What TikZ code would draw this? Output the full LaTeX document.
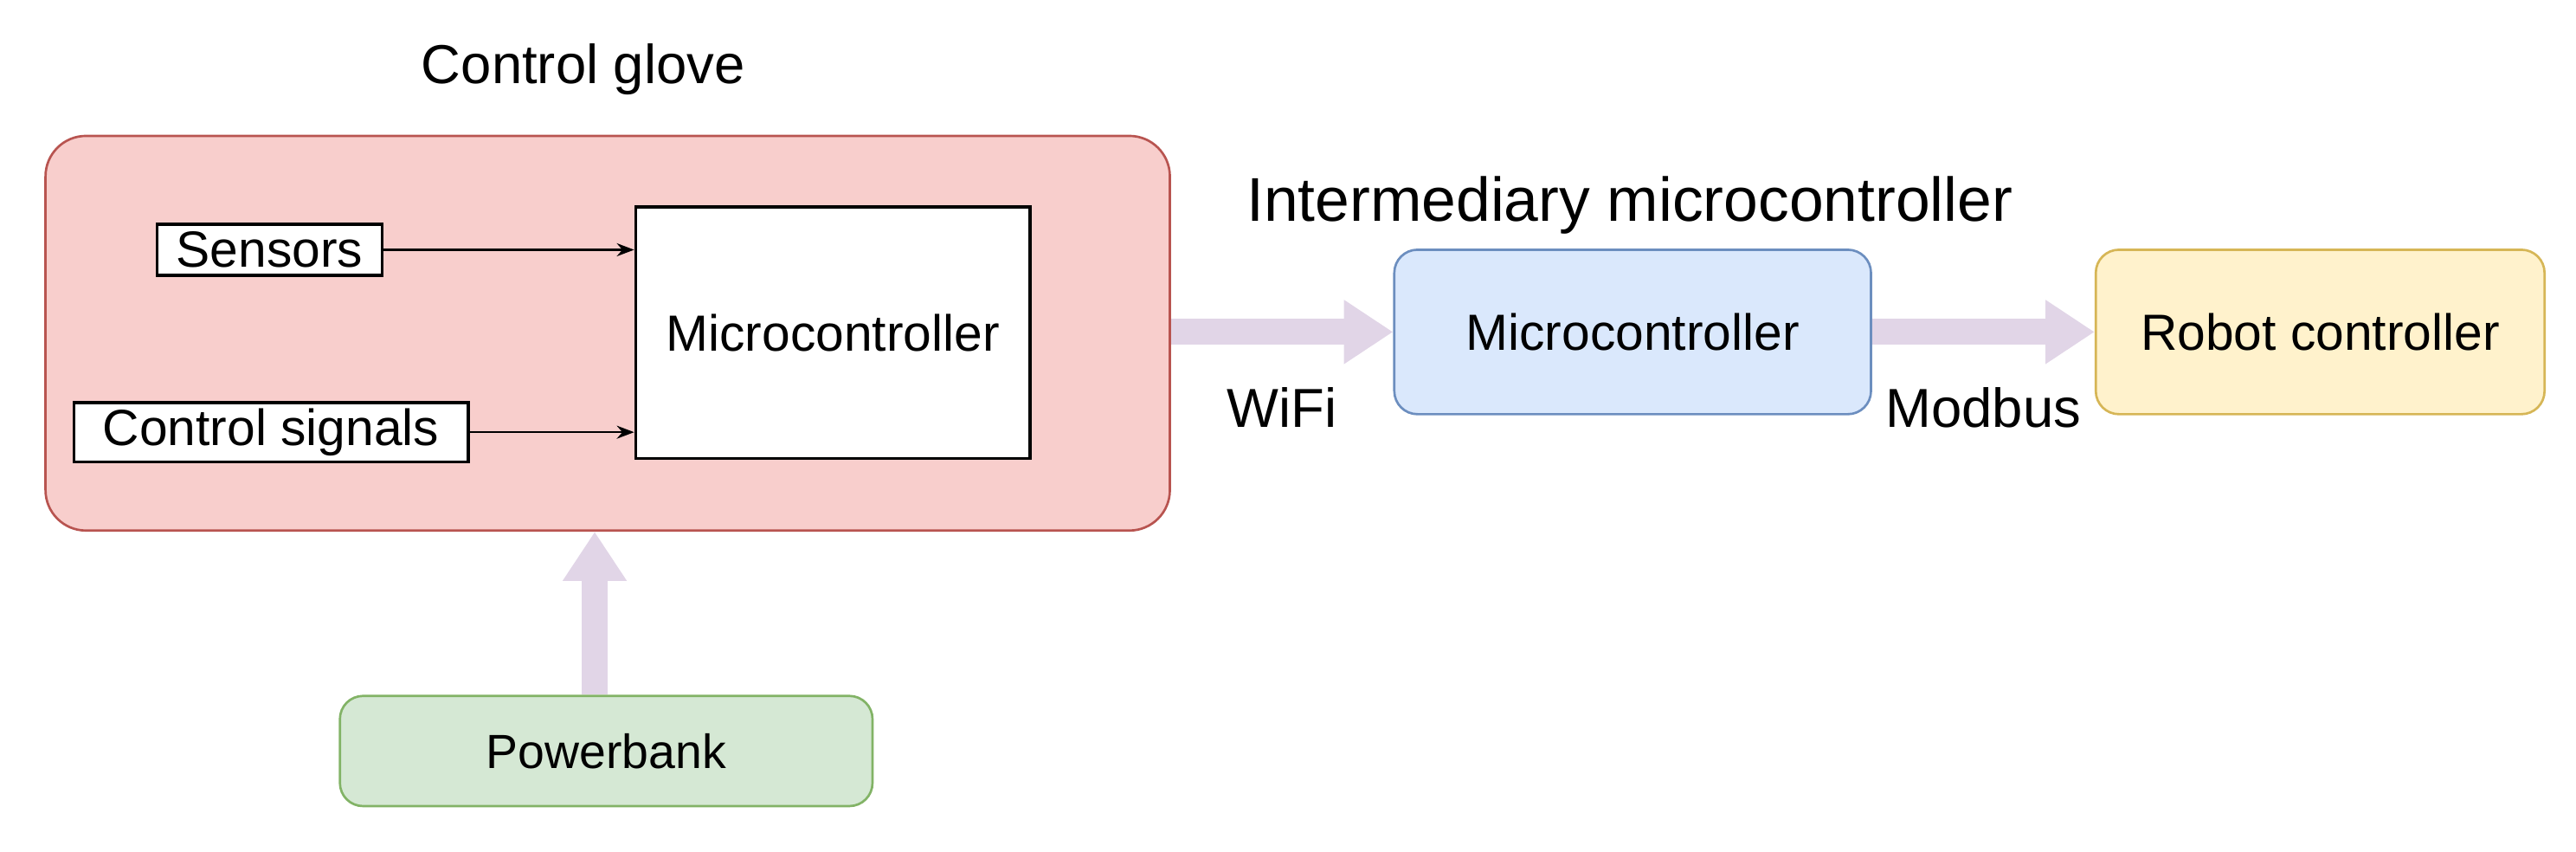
\documentclass[tikz,border=0pt]{standalone}
\usepackage{fontspec}
\setmainfont{Liberation Sans}
\usetikzlibrary{arrows.meta, positioning}
\definecolor{redfill}{HTML}{F8CECC}
\definecolor{redline}{HTML}{B85450}
\definecolor{bluefill}{HTML}{DAE8FC}
\definecolor{blueline}{HTML}{6C8EBF}
\definecolor{yellowfill}{HTML}{FFF2CC}
\definecolor{yellowline}{HTML}{D6B656}
\definecolor{greenfill}{HTML}{D5E8D4}
\definecolor{greenline}{HTML}{82B366}
\definecolor{purplefill}{HTML}{E1D5E7}
\tikzset{%
    block/.style={%
        draw, rounded corners=4pt, line width=0.4pt,
        font=\fontsize{8.8}{10}\selectfont
    },
    plain/.style={%
        draw, line width=0.5pt, fill=white, inner sep=1pt,
        font=\fontsize{8.8}{10}\selectfont
    },
    fatarrow/.style={%
        draw=purplefill, line width=4.5pt,
        -{Triangle[length=8.5pt, width=10.5pt]}
    },
    thinarrow/.style={%
        ->, >={Stealth[length=3pt]}, line width=0.4pt
    },
    title/.style={font=\fontsize{9.5}{11}\selectfont}
}
\begin{document}
\begin{tikzpicture}[x=0.01cm, y=-0.01cm]
    \useasboundingbox (0, 0) rectangle (1568, 518);

    % Control glove
    \node[block, rounded corners=7pt, fill=redfill, draw=redline,
        minimum width=6.84cm, minimum height=2.4cm, anchor=north west]
        (glove) at (27, 82) {};
    \node[title] (glove-title) at (355, 42) {Control glove};

    \node[draw, line width=0.5pt, fill=white, minimum width=2.4cm,
        minimum height=1.53cm, anchor=north west,
        font=\fontsize{8.8}{10}\selectfont]
        (mcu) at (386, 125) {Microcontroller};
    \node[plain, minimum width=1.37cm, minimum height=0.31cm]
        (sensors) at (164, 152) {Sensors};
    \node[plain, minimum width=2.4cm, minimum height=0.33cm]
        (signals) at (165, 263) {Control signals};

    \draw[thinarrow] (sensors.east) -- (sensors.east -| mcu.west);
    \draw[thinarrow] (signals.east) -- (signals.east -| mcu.west);

    % Intermediary
    \node[block, fill=bluefill, draw=blueline, minimum width=2.9cm,
        minimum height=1cm, anchor=west]
        (inter) at (848, 202) {Microcontroller};
    \node[title, font=\fontsize{10.7}{12}\selectfont]
        (inter-title) at (992, 125) {Intermediary microcontroller};

    % Robot
    \node[block, fill=yellowfill, draw=yellowline, minimum width=2.73cm,
        minimum height=1cm, anchor=west]
        (robot) at (1275, 202) {Robot controller};

    % Powerbank
    \node[block, fill=greenfill, draw=greenline,
        minimum width=3.24cm, minimum height=0.67cm,
        font=\fontsize{8.3}{10}\selectfont]
        (power) at (369, 457) {Powerbank};

    \draw[fatarrow] (glove.east |- inter.west) -- (inter.west)
        node[midway, below=4pt, title] (wifi) {WiFi};
    \draw[fatarrow] (inter.east) -- (robot.west)
        node[midway, below=4pt, title] (modbus) {Modbus};
    \draw[fatarrow] ([xshift=-0.07cm] power.north) --
        ([xshift=-0.07cm] power.north |- glove.south);

\end{tikzpicture}
\end{document}
